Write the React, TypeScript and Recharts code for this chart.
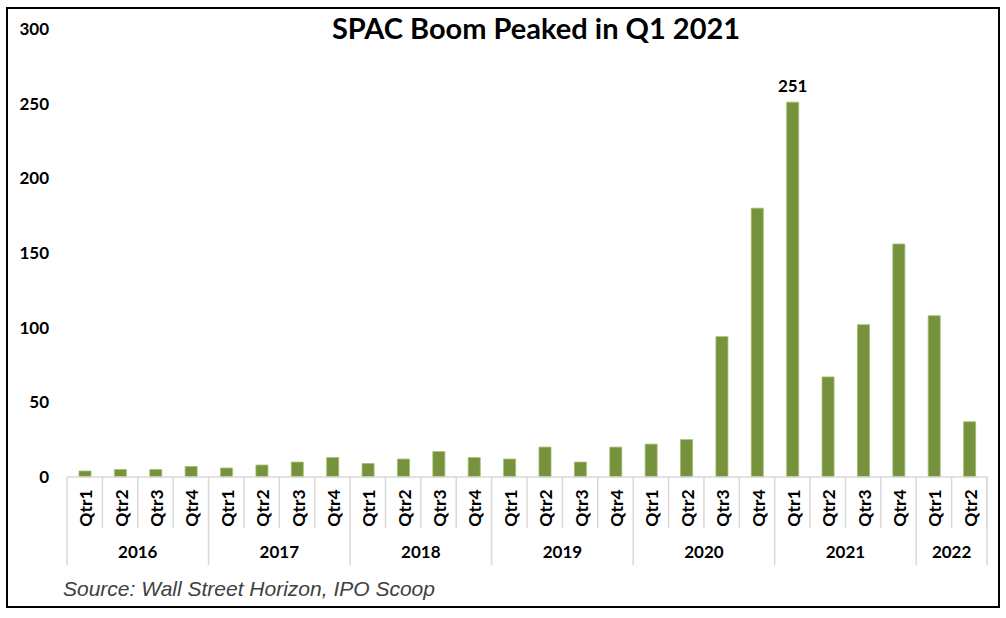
import { BarChart, Bar, XAxis, YAxis, LabelList } from "recharts";

// quarterly SPAC IPO counts
const years = ["2016", "2016", "2016", "2016", "2017", "2017", "2017", "2017", "2018", "2018", "2018", "2018", "2019", "2019", "2019", "2019", "2020", "2020", "2020", "2020", "2021", "2021", "2021", "2021", "2022", "2022"];
const quarters = ["Qtr1", "Qtr2", "Qtr3", "Qtr4", "Qtr1", "Qtr2", "Qtr3", "Qtr4", "Qtr1", "Qtr2", "Qtr3", "Qtr4", "Qtr1", "Qtr2", "Qtr3", "Qtr4", "Qtr1", "Qtr2", "Qtr3", "Qtr4", "Qtr1", "Qtr2", "Qtr3", "Qtr4", "Qtr1", "Qtr2"];
const spacs = [4, 5, 5, 7, 6, 8, 10, 13, 9, 12, 17, 13, 12, 20, 10, 20, 22, 25, 94, 180, 251, 67, 102, 156, 108, 37];
const yTicks = [0, 50, 100, 150, 200, 250, 300];

const data = spacs.map((v, i) => ({ q: quarters[i], year: years[i], v }));

const FONT = "Lato, 'DejaVu Sans', sans-serif";
const GRID = "#d9d9d9";
const QTR_H = 51;
const YEAR_H = 37;

const QtrTick = (props: any) => {
  const { x, y, payload, index } = props;
  const half = payload?.offset || 17.7;
  return (
    <g>
      <line x1={x - half} x2={x - half} y1={y} y2={y + QTR_H} stroke={GRID} strokeWidth={1.5} />
      {index === data.length - 1 && (
        <line x1={x + half} x2={x + half} y1={y} y2={y + QTR_H} stroke={GRID} strokeWidth={1.5} />
      )}
      <text
        x={0}
        y={0}
        transform={`translate(${x + 1},${y + 31}) rotate(-90)`}
        textAnchor="middle"
        dominantBaseline="central"
        fontFamily={FONT}
        fontWeight="bold"
        fontSize={17.5}
        fill="#000"
      >
        {payload.value}
      </text>
    </g>
  );
};

const YearTick = (props: any) => {
  const { x, y, index } = props;
  const half = props.payload?.offset || 17.7;
  const yr = years[index];
  const first = index === 0 || years[index - 1] !== yr;
  const last = index === years.length - 1;
  if (!first && !last) return null;
  const n = years.filter((d) => d === yr).length;
  return (
    <g>
      {first && (
        <>
          <line x1={x - half} x2={x - half} y1={y} y2={y + YEAR_H} stroke={GRID} strokeWidth={1.5} />
          <text
            x={x - half + n * half}
            y={y + 30}
            textAnchor="middle"
            fontFamily={FONT}
            fontWeight="bold"
            fontSize={17}
            fill="#000"
          >
            {yr}
          </text>
        </>
      )}
      {last && <line x1={x + half} x2={x + half} y1={y - QTR_H} y2={y + YEAR_H} stroke={GRID} strokeWidth={1.5} />}
    </g>
  );
};

export default function App() {
  return (
    <div style={{ position: "fixed", left: 0, top: 0, width: 1006, height: 618, background: "#fff" }}>
      <div
        style={{
          position: "absolute",
          left: 6,
          top: 7,
          width: 990,
          height: 597,
          border: "2px solid #000",
        }}
      />
      <div
        style={{
          position: "absolute",
          left: 0,
          width: 1072,
          top: 10,
          textAlign: "center",
          fontFamily: FONT,
          fontWeight: "bold",
          fontSize: 29,
          color: "#000",
        }}
      >
        SPAC Boom Peaked in Q1 2021
      </div>
      <div
        style={{
          position: "absolute",
          left: 63,
          top: 577,
          fontFamily: "'Liberation Sans', Arial, sans-serif",
          fontStyle: "italic",
          fontSize: 21,
          color: "#404040",
        }}
      >
        Source: Wall Street Horizon, IPO Scoop
      </div>
      <div style={{ position: "absolute", left: 0, top: 0 }}>
        <BarChart width={1006} height={618} data={data} margin={{ top: 29, right: 19, left: 10, bottom: 53 }}>
          <YAxis
            width={57}
            domain={[0, 300]}
            ticks={yTicks}
            axisLine={false}
            tickLine={false}
            tickSize={0}
            tickMargin={18}
            tick={{ fontFamily: FONT, fontWeight: "bold", fontSize: 17, fill: "#000" }}
          />
          <XAxis
            dataKey="q"
            height={QTR_H}
            interval={0}
            axisLine={{ stroke: GRID, strokeWidth: 1.5 }}
            tickLine={false}
            tickSize={0}
            tickMargin={0}
            tick={<QtrTick />}
          />
          <XAxis
            xAxisId="year"
            dataKey="year"
            height={YEAR_H}
            interval={0}
            allowDuplicatedCategory
            axisLine={false}
            tickLine={false}
            tickSize={0}
            tickMargin={0}
            tick={<YearTick />}
          />
          <Bar dataKey="v" barSize={12} fill="#76923C" stroke="#9fbb6a" strokeWidth={0.8} isAnimationActive={false}>
            <LabelList
              dataKey="v"
              position="top"
              offset={10}
              formatter={(v: any) => (v === Math.max(...spacs) ? v : "")}
              style={{ fontFamily: FONT, fontWeight: "bold", fontSize: 17, fill: "#000" }}
            />
          </Bar>
        </BarChart>
      </div>
    </div>
  );
}
